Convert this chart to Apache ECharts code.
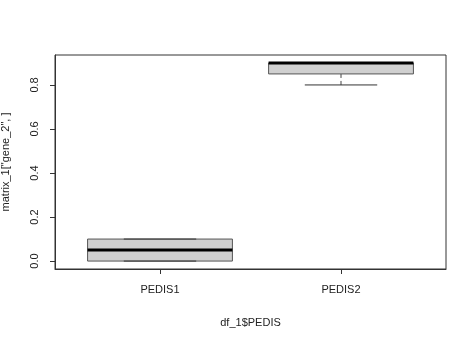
<!DOCTYPE html>
<html><head><meta charset="utf-8">
<script src="https://cdn.jsdelivr.net/npm/echarts@6/dist/echarts.min.js"></script>
<style>html,body{margin:0;padding:0;background:#fff}#c{width:474px;height:338px}</style>
</head><body><div id="c"></div>
<script>
const categories = ['PEDIS1', 'PEDIS2'];
const lowerWhisker = [0.0, 0.8];
const q1 = [0.0, 0.85];
const median = [0.05, 0.9];
const q3 = [0.1, 0.9];
const upperWhisker = [0.1, 0.9];
const yTicks = [0, 0.2, 0.4, 0.6, 0.8];

const data = categories.map((c, i) => [i + 1, lowerWhisker[i], q1[i], median[i], q3[i], upperWhisker[i]]);
const font = 'Liberation Sans, Arial, sans-serif';
const chart = echarts.init(document.getElementById('c'));
chart.setOption({
  animation: false,
  grid: { left: 55, right: 28, top: 55, bottom: 69, containLabel: false, outerBoundsMode: 'none',
    show: true, borderColor: '#333', borderWidth: 1, backgroundColor: 'transparent' },
  xAxis: {
    type: 'value', min: 0.42, max: 2.58, position: 'bottom',
    name: 'df_1$PEDIS', nameLocation: 'middle', nameGap: 48,
    nameTextStyle: { fontFamily: font, fontSize: 11, color: '#222' },
    axisLine: { show: true, onZero: false, lineStyle: { color: '#333', width: 1 } }, splitLine: { show: false },
    axisTick: { show: true, inside: false, length: 5, customValues: [1, 2], lineStyle: { color: '#333' } },
    axisLabel: { customValues: [1, 2], margin: 15, fontFamily: font, fontSize: 11, color: '#222',
      formatter: v => categories[Math.round(v) - 1] || '' }
  },
  yAxis: {
    type: 'value', min: -0.036, max: 0.936, position: 'left',
    name: 'matrix_1["gene_2", ]', nameLocation: 'middle', nameGap: 44, nameRotate: 90,
    nameTextStyle: { fontFamily: font, fontSize: 11, color: '#222' },
    axisLine: { show: true, onZero: false, lineStyle: { color: '#333', width: 1 } }, splitLine: { show: false },
    axisTick: { show: true, inside: false, length: 5, customValues: yTicks, lineStyle: { color: '#333' } },
    axisLabel: { customValues: yTicks, rotate: 90, margin: 15, fontFamily: font, fontSize: 11, color: '#222',
      formatter: v => v.toFixed(1) }
  },
  series: [{
    type: 'custom',
    data: data,
    encode: { x: 0, y: [1, 2, 3, 4, 5] },
    renderItem: function (params, api) {
      const x = api.value(0);
      const lw = api.value(1), a = api.value(2), m = api.value(3), b = api.value(4), uw = api.value(5);
      const hw = 0.4, sw = 0.2;
      const p = (xx, yy) => api.coord([xx, yy]);
      const tl = p(x - hw, b), br = p(x + hw, a);
      const children = [];
      const c0 = p(x, a), c1 = p(x, lw), c2 = p(x, b), c3 = p(x, uw);
      children.push({ type: 'line', shape: { x1: c0[0], y1: c0[1], x2: c1[0], y2: c1[1] }, style: { stroke: '#444', lineWidth: 1, lineDash: [4, 3] } });
      children.push({ type: 'line', shape: { x1: c2[0], y1: c2[1], x2: c3[0], y2: c3[1] }, style: { stroke: '#444', lineWidth: 1, lineDash: [4, 3] } });
      children.push({ type: 'rect', shape: { x: tl[0], y: tl[1], width: br[0] - tl[0], height: br[1] - tl[1] }, style: { fill: '#d0d0d0', stroke: '#555', lineWidth: 1 } });
      [lw, uw].forEach(v => {
        const s0 = p(x - sw, v), s1 = p(x + sw, v);
        children.push({ type: 'line', shape: { x1: s0[0], y1: s0[1], x2: s1[0], y2: s1[1] }, style: { stroke: '#333', lineWidth: 1 } });
      });
      const m0 = p(x - hw, m), m1 = p(x + hw, m);
      children.push({ type: 'line', shape: { x1: m0[0], y1: m0[1], x2: m1[0], y2: m1[1] }, style: { stroke: '#000', lineWidth: 3 } });
      return { type: 'group', children: children };
    }
  }]
});
</script></body></html>
